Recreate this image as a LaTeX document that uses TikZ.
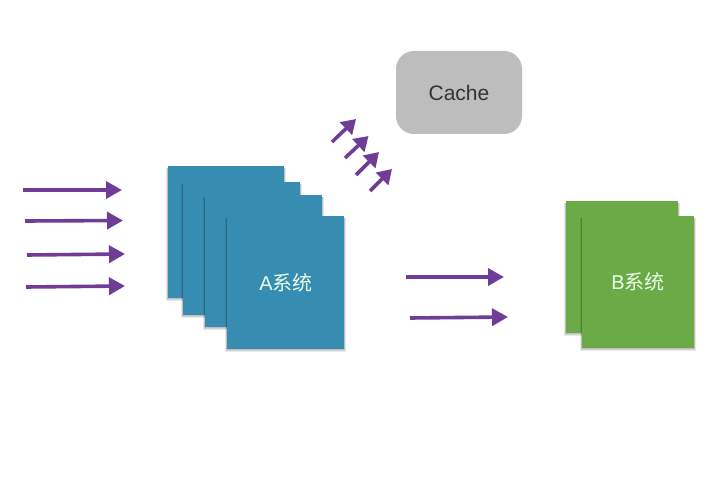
\documentclass[tikz,border=0pt]{standalone}
\usepackage{fontspec}
\setmainfont{Liberation Sans}
\newfontfamily\cjk{Noto Sans CJK SC}
\usetikzlibrary{arrows.meta}
\definecolor{sysblue}{HTML}{378DB1}
\definecolor{sysgreen}{HTML}{6BAA47}
\definecolor{cachegray}{HTML}{BDBDBD}
\definecolor{flow}{HTML}{6F3D98}
\tikzset{
  x=1pt,y=-1pt,
  softshadow/.style={fill=black,fill opacity=.09,draw=none},
  flowarrow/.style={draw=flow,line width=3.6pt,-{Triangle[length=16pt,width=17pt]}},
  smallflow/.style={draw=flow,line width=3.6pt,-{Triangle[length=14pt,width=17pt]}},
  syslabel/.style={text=white!92!green,font=\fontsize{20}{22}\selectfont,inner sep=0pt},
}
\newcommand{\sheet}[6]{% name, colour, x0, y0, x1, y1
  \foreach \d in {1,2,3}{
    \fill[softshadow] (#3-\d*.6,#4+2) rectangle (#5+\d*.7,#6+\d*1.1);
  }
  \path[fill=#2] (#3,#4) rectangle (#5,#6);
  \coordinate (#1) at ({(#3+#5)/2},{(#4+#6)/2});
}
\begin{document}
\begin{tikzpicture}
\useasboundingbox (0,0) rectangle (720,500);
\fill[white] (0,0) rectangle (720,500);

\sheet{a1}{sysblue}{168}{166}{284}{298}
\sheet{a2}{sysblue}{183}{182}{300}{315}
\sheet{a3}{sysblue}{205}{195}{322}{327}
\sheet{a4}{sysblue}{227}{216}{344}{349}
\node[syslabel] (la) at (286,283) {A{\cjk 系统}};

\sheet{b1}{sysgreen}{566}{201}{678}{333}
\sheet{b2}{sysgreen}{582}{216}{694}{348}
\node[syslabel] (lb) at (638,282) {B{\cjk 系统}};

\node[draw=none,fill=cachegray,rounded corners=18pt,minimum width=126pt,minimum height=83pt,
      inner sep=0pt,text=black!80,font=\fontsize{21}{24}\selectfont] (cache) at (459,92.5) {Cache};

% left input arrows
\coordinate (l1s) at (23,190);  \coordinate (l1e) at (122,190);
\coordinate (l2s) at (25,221);  \coordinate (l2e) at (123,220.5);
\coordinate (l3s) at (27,255);  \coordinate (l3e) at (125,254);
\coordinate (l4s) at (26,287);  \coordinate (l4e) at (125,286);
\draw[flowarrow] (l1s) -- (l1e);
\draw[flowarrow] (l2s) -- (l2e);
\draw[flowarrow] (l3s) -- (l3e);
\draw[flowarrow] (l4s) -- (l4e);

% middle arrows
\coordinate (m1s) at (406,277); \coordinate (m1e) at (504,277);
\coordinate (m2s) at (410,318); \coordinate (m2e) at (508,317);
\draw[flowarrow] (m1s) -- (m1e);
\draw[flowarrow] (m2s) -- (m2e);

% diagonal arrows
\coordinate (d1s) at (332,142); \coordinate (d1e) at (356,119);
\coordinate (d2s) at (345,158); \coordinate (d2e) at (368.5,136);
\coordinate (d3s) at (356,175); \coordinate (d3e) at (379,152);
\coordinate (d4s) at (370,191); \coordinate (d4e) at (392,169);
\draw[smallflow] (d1s) -- (d1e);
\draw[smallflow] (d2s) -- (d2e);
\draw[smallflow] (d3s) -- (d3e);
\draw[smallflow] (d4s) -- (d4e);
\end{tikzpicture}
\end{document}
